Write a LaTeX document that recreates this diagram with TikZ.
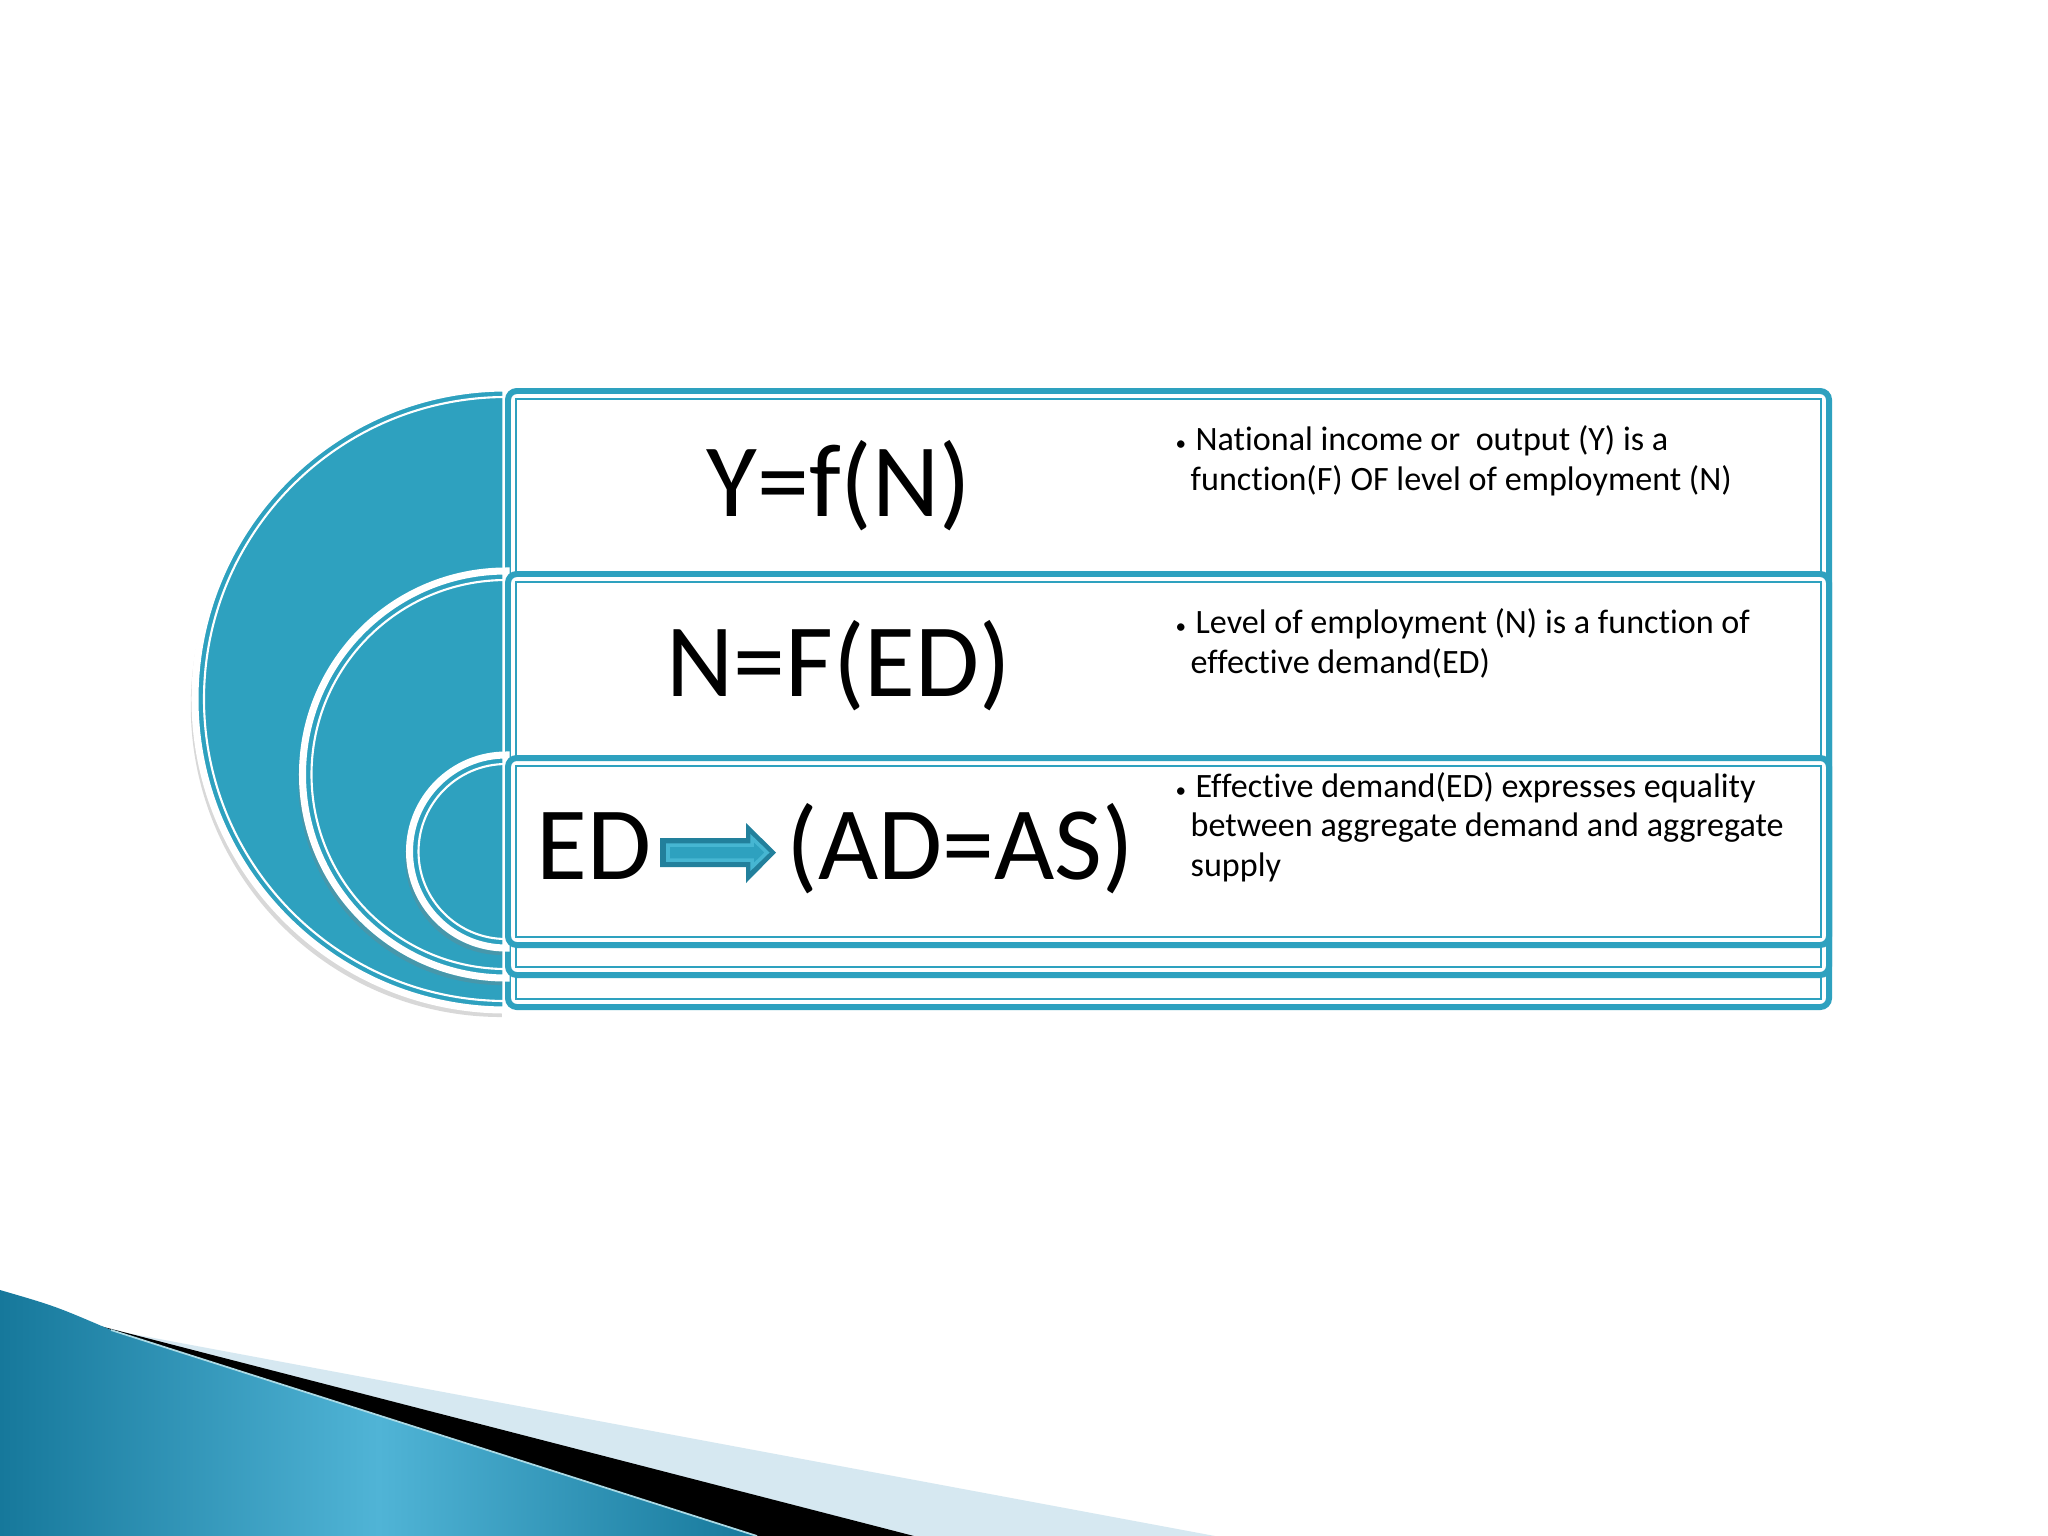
\documentclass[tikz,border=0pt]{standalone}
\usepackage{fontspec}
\setmainfont{Carlito}[Ligatures=NoCommon]
\usepackage{tikz}
\usetikzlibrary{positioning,shadows}

\definecolor{slideteal}{RGB}{46,161,191}
\definecolor{arrowdark}{RGB}{34,128,156}
\definecolor{arrowlight}{RGB}{70,182,210}
\definecolor{bandlight}{RGB}{214,232,241}
\definecolor{wavedark}{RGB}{22,120,155}
\definecolor{wavelight}{RGB}{80,180,214}

\tikzstyle{halfdisc}=[fill=slideteal, draw=white, line width=2pt, drop shadow={shadow xshift=-1.2pt, shadow yshift=-2pt, opacity=0.3}]
\tikzstyle{rowbox}=[draw=slideteal, fill=white, line width=1.7pt, rounded corners=2.5pt]
\tikzstyle{rowline}=[draw=slideteal, line width=0.6pt]
\tikzstyle{bigtext}=[anchor=base, inner sep=0, font=\fontsize{29.6}{32}\selectfont]
\tikzstyle{note}=[anchor=base west, align=left, inner sep=0, font=\fontsize{9.7}{11.1}\selectfont]

\newcommand{\dotmark}{\llap{\fontsize{6}{6}\selectfont\textbullet\hspace{1.3pt}}\hspace{1.4pt}}

\begin{document}
\begin{tikzpicture}[x=0.01cm, y=-0.01cm]
    \useasboundingbox (0,0) rectangle (2048,1536);
    \fill[white] (0,0) rectangle (2048,1536);

    % corner wave
    \fill[bandlight] (111,1330) -- (1215,1536) -- (700,1536) -- cycle;
    \fill[black] (100,1326) -- (914,1536) -- (700,1536) -- cycle;
    \shade[left color=wavedark, right color=wavedark, middle color=wavelight] (0,1290) .. controls (55,1306) .. (111,1330) -- (757,1536) -- (0,1536) -- cycle;
    \draw[white!60!slideteal, line width=0.5pt] (111,1330) -- (757,1536);

    % three nested layers
    \foreach \ytop/\ybot in {388/1010, 571/978, 755/948}{
        \pgfmathsetmacro{\rad}{(\ybot-\ytop)/2}
        \pgfmathsetmacro{\rin}{\rad-9}
        \path[halfdisc] (506,\ytop) arc[start angle=270, end angle=90, radius=\rad] -- cycle;
        \draw[white, line width=0.6pt] (506,\ytop+9) arc[start angle=270, end angle=90, radius=\rin];
        \draw[rowbox] (508,\ytop+3) rectangle (1829,\ybot-3);
        \draw[rowline] (516,\ytop+11) rectangle (1821,\ybot-11);
    };

    \node (eqY)[bigtext] at (839,516) {Y=f(N)};
    \node (eqN)[bigtext] at (839,696) {N=F(ED)};
    \node (eqED)[bigtext, anchor=base east] at (652,879) {ED};
    \node (eqAD)[bigtext, anchor=base west] at (786,879) {(AD=AS)};

    % block arrow
    \fill[arrowdark] (660,838) -- (746,838) -- (746,823) -- (776,852.5) -- (746,883) -- (746,867) -- (660,867) -- cycle;
    \draw[arrowlight, line width=1pt, fill=slideteal] (668,845) -- (752,845) -- (752,838) -- (767,852.5) -- (752,867) -- (752,860) -- (668,860) -- cycle;

    \node (txtY)[note] at (1190,490) {\dotmark National income or~ output (Y) is a\\function(F) OF level of employment (N)};
    \node (txtN)[note] at (1190,673) {\dotmark Level of employment (N) is a function of\\effective demand(ED)};
    \node (txtED)[note] at (1190,876) {\dotmark Effective demand(ED) expresses equality\\between aggregate demand and aggregate\\supply};
\end{tikzpicture}
\end{document}
